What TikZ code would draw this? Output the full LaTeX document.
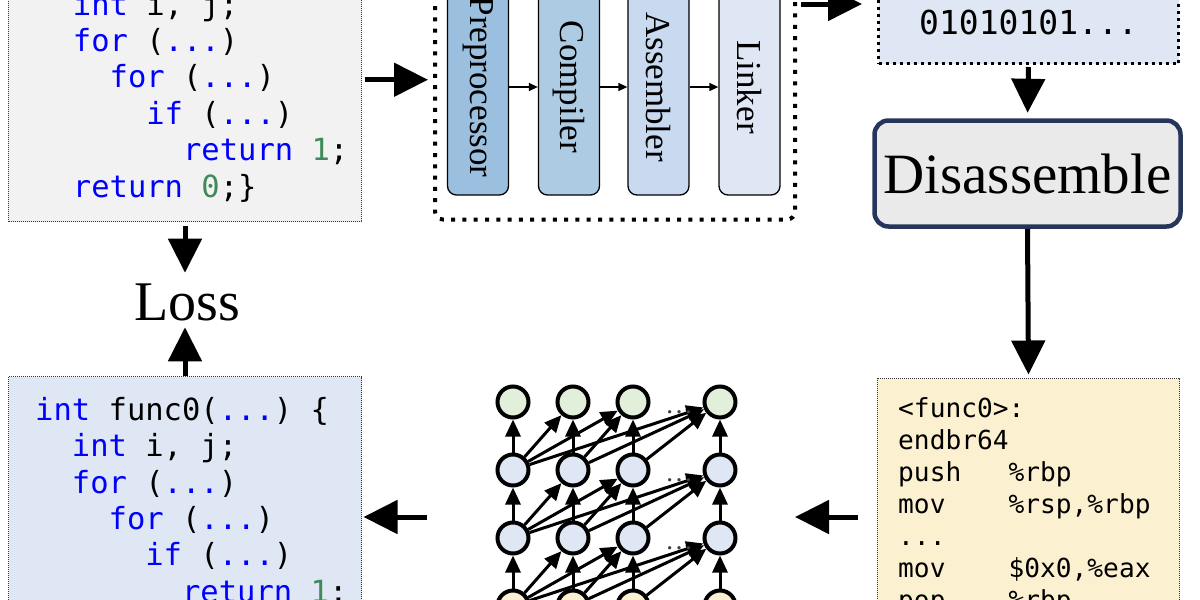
\documentclass[tikz,border=0pt]{standalone}
\usepackage{fontspec}
\setmainfont{Liberation Serif}
\setmonofont{DejaVu Sans Mono}
\usetikzlibrary{arrows.meta, positioning}

\definecolor{srcgray}{HTML}{F2F2F2}
\definecolor{codeblue}{HTML}{DFE7F5}
\definecolor{asmyellow}{HTML}{FBF0CF}
\definecolor{nodegreen}{HTML}{E2EFDA}
\definecolor{disgray}{HTML}{EAEAEA}
\definecolor{disnavy}{HTML}{26365A}
\definecolor{pipeA}{HTML}{9BBFDE}
\definecolor{pipeB}{HTML}{ADCCE3}
\definecolor{pipeC}{HTML}{C8D9F0}
\definecolor{pipeD}{HTML}{DFE7F5}
\definecolor{kwblue}{HTML}{0000FF}
\definecolor{numgreen}{HTML}{3F8A5A}

\newcommand\kw[1]{\textcolor{kwblue}{#1}}
\newcommand\nm[1]{\textcolor{numgreen}{#1}}
\newcommand\ind[1]{\hspace*{#1\fontcharwd\font`0}}

\tikzset{
  codebox/.style={draw=black!80, line width=1pt, densely dotted, inner sep=0pt},
  code/.style={font=\ttfamily\fontsize{30.5}{36.4}\selectfont, align=left,
               anchor=north west, inner sep=0pt},
  asmcode/.style={font=\ttfamily\fontsize{26.2}{32}\selectfont, align=left,
                  anchor=north west, inner sep=0pt},
  flow/.style={line width=5pt, -{Triangle[length=34pt, width=33pt]}},
  stage/.style={draw, line width=1.3pt, rounded corners=9pt, rotate=-90,
                minimum width=216pt, minimum height=61pt, inner sep=0pt,
                font=\fontsize{35}{40}\selectfont},
  stagearrow/.style={line width=1.4pt, -{Triangle[length=9pt, width=8pt]}},
  neuron/.style={circle, draw, line width=4pt, minimum size=31pt, inner sep=0pt},
  netarrow/.style={line width=3pt, -{Triangle[length=17pt, width=15pt]}},
  bigtext/.style={font=\fontsize{56}{60}\selectfont, inner sep=0pt}
}

\begin{document}
\begin{tikzpicture}[x=1pt, y=1pt]
  \useasboundingbox (0,0) rectangle (1200,-600);
  \clip (0,0) rectangle (1200,-600);

  % Source code (top left)
  \node[codebox, fill=srcgray, minimum width=353pt, minimum height=283.5pt]
    (src) at (185,-79.75) {};
  \node[code] (srctxt) at (36,10.5) {%
    \strut\ind{2}\kw{int} i, j;\\
    \strut\ind{2}\kw{for} (\kw{...})\\
    \strut\ind{4}\kw{for} (\kw{...})\\
    \strut\ind{6}\kw{if} (\kw{...})\\
    \strut\ind{8}\kw{return} \nm{1};\\
    \strut\ind{2}\kw{return} \nm{0};\}};

  % Compilation pipeline
  \node[draw, line width=4pt, dash pattern=on 4pt off 7.3pt, rounded corners=8pt,
        minimum width=360pt, minimum height=283pt] (pipe) at (615,-78) {};
  \foreach \n/\t/\x/\f in {prep/Preprocessor/478/pipeA, comp/Compiler/569/pipeB,
                           asmb/Assembler/658.5/pipeC, link/Linker/749.5/pipeD}
    \node[stage, fill=\f] (\n) at (\x,-87) {\t};
  \foreach \a/\b in {prep/comp, comp/asmb, asmb/link}
    \draw[stagearrow] (\a) -- (\b);

  % Binary
  \node[draw, fill=codeblue, line width=3pt, dash pattern=on 3pt off 4pt,
        minimum width=300pt, minimum height=82pt, inner sep=0pt,
        font=\ttfamily\fontsize{33}{36}\selectfont] (bin) at (1028.5,-22.5) {01010101...};

  % Disassembler
  \node[draw=disnavy, fill=disgray, line width=4.5pt, rounded corners=14pt,
        minimum width=306pt, minimum height=106pt, bigtext,
        font=\fontsize{57}{60}\selectfont] (dis) at (1027.5,-173.5) {Disassemble};

  % Assembly listing
  \node[codebox, fill=asmyellow, minimum width=302pt, minimum height=277pt]
    (asm) at (1028.5,-517) {};
  \node[asmcode] (asmtxt) at (898,-394.6) {%
    \strut<func0>:\\
    \strut endbr64\\
    \strut push\ind{3}\%rbp\\
    \strut mov\ind{4}\%rsp,\%rbp\\
    \strut ...\\
    \strut mov\ind{4}\$0x0,\%eax\\
    \strut pop\ind{4}\%rbp};

  % Model
  \foreach \c/\x in {1/513, 2/573, 3/633, 4/720}
    \foreach \r/\y/\f in {1/402/nodegreen, 2/470/codeblue, 3/538/codeblue, 4/606/asmyellow}
      \node[neuron, fill=\f] (n\r\c) at (\x,-\y) {};
  \foreach \r in {1,2,3} {
    \pgfmathtruncatemacro\s{\r+1}
    \foreach \a in {1,...,4}
      \foreach \b in {\a,...,4}
        \draw[netarrow] (n\s\a) -- (n\r\b);
  }
  \foreach \r/\y in {1/402, 2/470, 3/538}
    \node[font=\fontsize{28}{30}\selectfont, text=black!75, inner sep=0pt]
      (dots\r) at (679,-\y-10) {\dots};
  \coordinate (netin) at (795,-517);
  \coordinate (netout) at (427,-517);

  % Decompiled code (bottom left)
  \node[codebox, fill=codeblue, minimum width=353pt, minimum height=283.5pt]
    (dst) at (185,-518.25) {};
  \node[code] (dsttxt) at (35,-394.6) {%
    \strut\kw{int} func0(\kw{...}) \{\\
    \strut\ind{2}\kw{int} i, j;\\
    \strut\ind{2}\kw{for} (\kw{...})\\
    \strut\ind{4}\kw{for} (\kw{...})\\
    \strut\ind{6}\kw{if} (\kw{...})\\
    \strut\ind{8}\kw{return} \nm{1};};

  \node[bigtext] (loss) at (187,-302) {Loss};

  % Flow arrows
  \draw[flow, shorten <=2.5pt, shorten >=5pt] (src.east) -- (src.east -| pipe.west);
  \coordinate (binin) at ([yshift=18.5pt]bin.west);
  \draw[flow, shorten <=4pt, shorten >=15pt] (pipe.east |- binin) -- (binin);
  \draw[flow, shorten <=2pt, shorten >=5.5pt] (bin.south) -- (dis.north);
  \draw[flow, shorten >=3.5pt] (dis.south) -- (asm.north);
  \draw[flow, shorten <=19.5pt] (asm.west) -- (netin);
  \draw[flow, shorten >=1.5pt] (netout) -- (netout -| dst.east);
  \draw[flow, shorten <=3.5pt, shorten >=10.5pt] (src.south) -- (src.south |- loss.north);
  \draw[flow, shorten >=6.5pt] (dst.north) -- (dst.north |- loss.south);
\end{tikzpicture}
\end{document}
